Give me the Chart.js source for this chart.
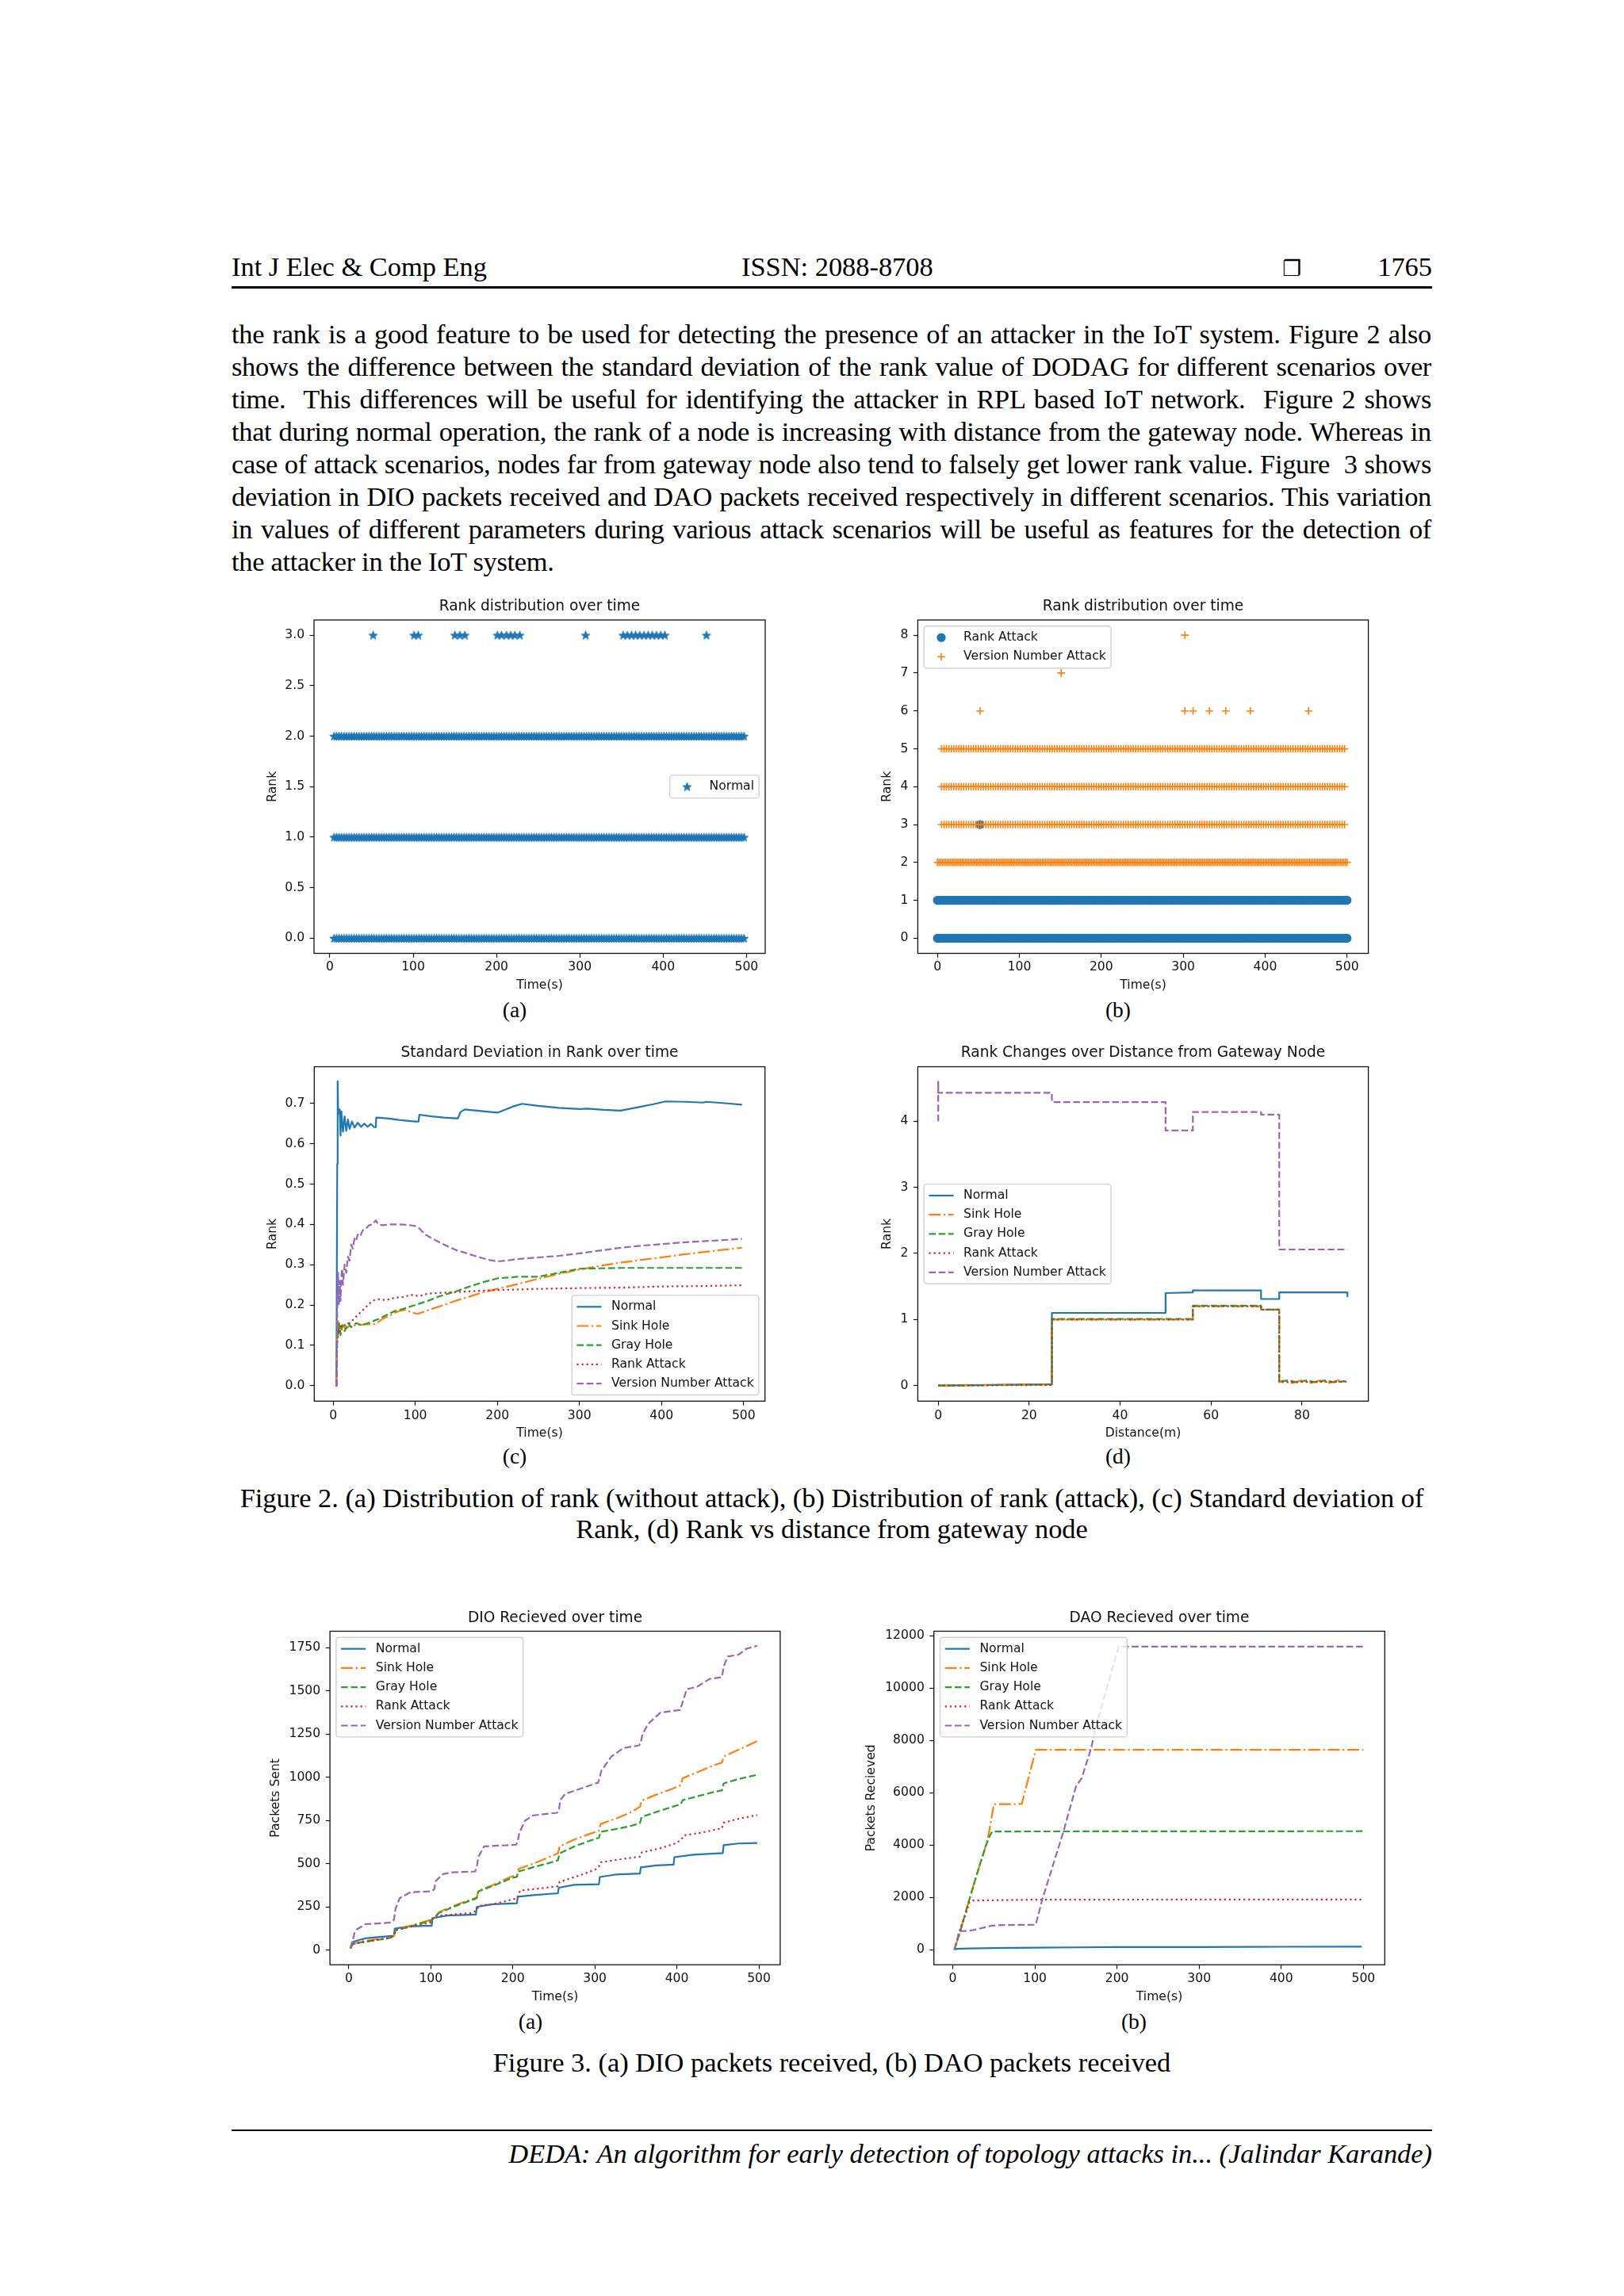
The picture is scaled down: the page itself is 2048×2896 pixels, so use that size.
<!DOCTYPE html>
<html>
<head>
<meta charset="utf-8">
<script src="https://cdn.jsdelivr.net/npm/chart.js@4.4.1/dist/chart.umd.min.js"></script>
<style>
  html, body { margin: 0; padding: 0; background: #fff; }
  #page { position: relative; width: 2048px; height: 2896px; overflow: hidden; background: #fff; }
  .t { position: absolute; font-family: "Liberation Serif", "Times New Roman", serif; font-size: 34.4px;
       line-height: 41px; white-space: nowrap; color: #000; }
  .j { left: 292px; width: 1513px; text-align: justify; text-align-last: justify; letter-spacing: -0.3px; }
  .c { left: 292px; width: 1514px; text-align: center; }
  .s { font-size: 27.5px; width: 200px; text-align: center; }
  .rule { position: absolute; left: 292px; width: 1514px; background: #000; }
  canvas { position: absolute; }
</style>
</head>
<body>
<div id="page">
  <div class="t" style="left:292px;top:316px">Int J Elec &amp; Comp Eng</div>
  <div class="t" style="left:935px;top:316px">ISSN: 2088-8708</div>
  <div class="t" style="left:1617px;top:318px;font-family:'DejaVu Sans';font-size:27px">&#x2750;</div>
  <div class="t" style="right:242px;top:316px">1765</div>
  <div class="rule" style="top:361px;height:2.5px"></div>

  <div class="t j" style="top:401px">the rank is a good feature to be used for detecting the presence of an attacker in the IoT system. Figure 2 also</div>
  <div class="t j" style="top:442px">shows the difference between the standard deviation of the rank value of DODAG for different scenarios over</div>
  <div class="t j" style="top:483px">time.&nbsp; This differences will be useful for identifying the attacker in RPL based IoT network.&nbsp; Figure 2 shows</div>
  <div class="t j" style="top:524px">that during normal operation, the rank of a node is increasing with distance from the gateway node. Whereas in</div>
  <div class="t j" style="top:565px">case of attack scenarios, nodes far from gateway node also tend to falsely get lower rank value. Figure&nbsp; 3 shows</div>
  <div class="t j" style="top:606px">deviation in DIO packets received and DAO packets received respectively in different scenarios. This variation</div>
  <div class="t j" style="top:647px">in values of different parameters during various attack scenarios will be useful as features for the detection of</div>
  <div class="t" style="left:292px;top:688px;letter-spacing:-0.3px">the attacker in the IoT system.</div>

  <div class="t s" style="left:549px;top:1253px">(a)</div>
  <div class="t s" style="left:1310px;top:1253px">(b)</div>
  <div class="t s" style="left:549px;top:1816px">(c)</div>
  <div class="t s" style="left:1310px;top:1816px">(d)</div>
  <div class="t c" style="top:1869px">Figure 2. (a) Distribution of rank (without attack), (b) Distribution of rank (attack), (c) Standard deviation of</div>
  <div class="t c" style="top:1908px">Rank, (d) Rank vs distance from gateway node</div>

  <div class="t s" style="left:569px;top:2529px">(a)</div>
  <div class="t s" style="left:1330px;top:2529px">(b)</div>
  <div class="t c" style="top:2581px">Figure 3. (a) DIO packets received, (b) DAO packets received</div>

  <div class="rule" style="top:2685.5px;height:2.5px"></div>
  <div class="t" style="right:242px;top:2696px;font-style:italic">DEDA: An algorithm for early detection of topology attacks in... (Jalindar Karande)</div>
</div>

<script>
// ---------- data ----------
// sampling instants (s) of the rank scatter plots
const sampleTimes = [
  5, 10, 15, 20, 25, 30, 35, 40, 45, 50, 55, 60, 65, 70, 75, 80, 85, 90, 95, 100,
  105, 110, 115, 120, 125, 130, 135, 140, 145, 150, 155, 160, 165, 170, 175, 180, 185, 190, 195, 200,
  205, 210, 215, 220, 225, 230, 235, 240, 245, 250, 255, 260, 265, 270, 275, 280, 285, 290, 295, 300,
  305, 310, 315, 320, 325, 330, 335, 340, 345, 350, 355, 360, 365, 370, 375, 380, 385, 390, 395, 400,
  405, 410, 415, 420, 425, 430, 435, 440, 445, 450, 455, 460, 465, 470, 475, 480, 485, 490, 495, 500
];
const denseTimes = [
  0, 2, 4, 6, 8, 10, 12, 14, 16, 18, 20, 22, 24, 26, 28, 30, 32, 34, 36, 38, 40, 42, 44, 46, 48,
  50, 52, 54, 56, 58, 60, 62, 64, 66, 68, 70, 72, 74, 76, 78, 80, 82, 84, 86, 88, 90, 92, 94, 96, 98,
  100, 102, 104, 106, 108, 110, 112, 114, 116, 118, 120, 122, 124, 126, 128, 130, 132, 134, 136, 138, 140, 142, 144, 146, 148,
  150, 152, 154, 156, 158, 160, 162, 164, 166, 168, 170, 172, 174, 176, 178, 180, 182, 184, 186, 188, 190, 192, 194, 196, 198,
  200, 202, 204, 206, 208, 210, 212, 214, 216, 218, 220, 222, 224, 226, 228, 230, 232, 234, 236, 238, 240, 242, 244, 246, 248,
  250, 252, 254, 256, 258, 260, 262, 264, 266, 268, 270, 272, 274, 276, 278, 280, 282, 284, 286, 288, 290, 292, 294, 296, 298,
  300, 302, 304, 306, 308, 310, 312, 314, 316, 318, 320, 322, 324, 326, 328, 330, 332, 334, 336, 338, 340, 342, 344, 346, 348,
  350, 352, 354, 356, 358, 360, 362, 364, 366, 368, 370, 372, 374, 376, 378, 380, 382, 384, 386, 388, 390, 392, 394, 396, 398,
  400, 402, 404, 406, 408, 410, 412, 414, 416, 418, 420, 422, 424, 426, 428, 430, 432, 434, 436, 438, 440, 442, 444, 446, 448,
  450, 452, 454, 456, 458, 460, 462, 464, 466, 468, 470, 472, 474, 476, 478, 480, 482, 484, 486, 488, 490, 492, 494, 496, 498,
  500
];
// instants reported by every node in the normal run (3 s apart)
const normalTimes = [
  5, 8, 11, 14, 17, 20, 23, 26, 29, 32, 35, 38, 41, 44, 47, 50, 53, 56, 59, 62, 65, 68, 71, 74, 77, 80, 83, 86, 89, 92, 95, 98,
  101, 104, 107, 110, 113, 116, 119, 122, 125, 128, 131, 134, 137, 140, 143, 146, 149, 152, 155, 158, 161, 164, 167, 170,
  173, 176, 179, 182, 185, 188, 191, 194, 197, 200, 203, 206, 209, 212, 215, 218, 221, 224, 227, 230, 233, 236, 239, 242,
  245, 248, 251, 254, 257, 260, 263, 266, 269, 272, 275, 278, 281, 284, 287, 290, 293, 296, 299, 302, 305, 308, 311, 314,
  317, 320, 323, 326, 329, 332, 335, 338, 341, 344, 347, 350, 353, 356, 359, 362, 365, 368, 371, 374, 377, 380, 383, 386,
  389, 392, 395, 398, 401, 404, 407, 410, 413, 416, 419, 422, 425, 428, 431, 434, 437, 440, 443, 446, 449, 452, 455, 458,
  461, 464, 467, 470, 473, 476, 479, 482, 485, 488, 491, 494, 497
];

// Fig 2(a) - normal ranks
const normalRankLevels = [0, 1, 2];
const normalRank3Times = [52, 101, 106, 150, 156, 162, 201, 206, 212, 217, 222, 228, 307,
  352, 357, 362, 367, 372, 377, 382, 387, 392, 397, 402, 452];

// Fig 2(b) - ranks under attack
const rankAttackLevels = [0, 1];
const rankAttackOutliers = [[52, 3]];
const versionDenseLevels = [2];
const versionLevels = [3, 4, 5];
const versionOutliers = [[52, 6], [151, 7], [302, 6], [302, 8], [312, 6], [332, 6], [352, 6], [382, 6], [453, 6]];

// Fig 2(c) - standard deviation of rank, [time, std]
const stdNormal = [[3, 0], [4, 0], [5, 0.55], [5.5, 0.755], [6, 0.69], [7, 0.675], [8, 0.685], [9, 0.62], [10, 0.68],
  [12, 0.63], [14, 0.668], [16, 0.632], [18, 0.66], [20, 0.637], [23, 0.655], [26, 0.64], [30, 0.652], [34, 0.642],
  [38, 0.65], [42, 0.642], [46, 0.649], [50, 0.641], [52, 0.641], [52.5, 0.665], [60, 0.664], [70, 0.662], [80, 0.659],
  [90, 0.657], [100, 0.655], [104, 0.655], [105, 0.672], [120, 0.668], [135, 0.665], [150, 0.663], [152, 0.663],
  [155, 0.678], [160, 0.685], [175, 0.682], [190, 0.679], [200, 0.677], [210, 0.685], [220, 0.693], [230, 0.699],
  [250, 0.694], [275, 0.689], [300, 0.686], [310, 0.687], [330, 0.684], [350, 0.682], [370, 0.69], [390, 0.698],
  [405, 0.705], [430, 0.704], [450, 0.702], [455, 0.704], [480, 0.7], [498, 0.697]];
const stdSink = [[3, 0], [4, 0], [5, 0.12], [6, 0.16], [7, 0.13], [8, 0.15], [10, 0.135], [12, 0.15], [15, 0.14],
  [20, 0.148], [30, 0.15], [40, 0.152], [50, 0.152], [55, 0.158], [60, 0.165], [70, 0.175], [80, 0.185], [88, 0.188],
  [95, 0.182], [103, 0.178], [110, 0.183], [120, 0.19], [135, 0.2], [150, 0.211], [165, 0.22], [180, 0.23], [200, 0.24],
  [225, 0.252], [250, 0.265], [275, 0.277], [300, 0.288], [325, 0.297], [350, 0.305], [375, 0.312], [400, 0.318],
  [425, 0.325], [450, 0.331], [475, 0.337], [498, 0.342]];
const stdGray = [[3, 0], [4, 0], [5, 0.14], [6, 0.12], [7, 0.155], [9, 0.125], [11, 0.15], [14, 0.135], [18, 0.155],
  [22, 0.145], [28, 0.155], [35, 0.15], [45, 0.157], [55, 0.165], [65, 0.175], [75, 0.185], [85, 0.19], [100, 0.2],
  [115, 0.21], [130, 0.222], [150, 0.234], [165, 0.245], [180, 0.255], [200, 0.266], [225, 0.27], [250, 0.27],
  [270, 0.278], [300, 0.29], [325, 0.291], [350, 0.292], [400, 0.292], [450, 0.292], [498, 0.292]];
const stdRank = [[3, 0], [4, 0], [5, 0.11], [6, 0.14], [8, 0.13], [10, 0.15], [15, 0.15], [20, 0.155], [25, 0.165],
  [30, 0.175], [35, 0.185], [40, 0.195], [45, 0.205], [50, 0.212], [55, 0.214], [65, 0.212], [75, 0.218], [85, 0.22],
  [95, 0.225], [105, 0.222], [115, 0.228], [130, 0.23], [150, 0.232], [175, 0.235], [200, 0.237], [250, 0.24],
  [300, 0.242], [350, 0.243], [400, 0.246], [450, 0.247], [498, 0.249]];
const stdVersion = [[3, 0], [4, 0], [5, 0.19], [6, 0.28], [7, 0.2], [8, 0.26], [9, 0.21], [10, 0.27], [11, 0.29],
  [12, 0.25], [14, 0.3], [16, 0.28], [18, 0.32], [20, 0.31], [22, 0.35], [24, 0.34], [26, 0.365], [28, 0.36],
  [30, 0.375], [33, 0.37], [36, 0.385], [40, 0.39], [44, 0.398], [48, 0.4], [52, 0.41], [55, 0.4], [60, 0.398],
  [70, 0.4], [80, 0.4], [90, 0.399], [100, 0.396], [105, 0.39], [112, 0.375], [120, 0.366], [130, 0.355], [140, 0.345],
  [150, 0.336], [160, 0.33], [175, 0.32], [190, 0.312], [200, 0.308], [210, 0.31], [230, 0.315], [250, 0.318],
  [275, 0.322], [300, 0.328], [325, 0.335], [350, 0.342], [375, 0.347], [400, 0.351], [425, 0.355], [450, 0.358],
  [475, 0.361], [498, 0.364]];

// Fig 2(d) - rank vs distance, [distance, rank]
const distNormal = [[0, 0], [25, 0.02], [25, 1.1], [50, 1.1], [50, 1.4], [56, 1.41], [56, 1.44], [71, 1.44],
  [71, 1.31], [75, 1.31], [75, 1.41], [90, 1.41], [90, 1.35]];
const distSink = [[0, 0], [25, 0.02], [25, 1.0], [56, 1.0], [56, 1.2], [71, 1.2], [71, 1.15], [75, 1.15], [75, 0.05],
  [76, 0.08], [78, 0.04], [80, 0.08], [82, 0.04], [84, 0.08], [86, 0.04], [88, 0.08], [90, 0.05]];
const distGray = [[0, 0], [25, 0.02], [25, 1.01], [56, 1.01], [56, 1.21], [71, 1.21], [71, 1.15], [75, 1.15],
  [75, 0.06], [77, 0.08], [79, 0.05], [81, 0.08], [83, 0.05], [85, 0.08], [87, 0.05], [90, 0.07]];
const distRank = [[0, 0], [25, 0.01], [25, 1.0], [56, 1.0], [56, 1.2], [71, 1.2], [71, 1.15], [75, 1.15], [75, 0.05],
  [90, 0.06]];
const distVersion = [[0, 4.0], [0, 4.6], [0, 4.43], [25, 4.43], [25, 4.29], [50, 4.29], [50, 3.86], [56, 3.86],
  [56, 4.14], [71, 4.14], [71, 4.1], [75, 4.1], [75, 2.06], [90, 2.06]];

// Fig 3(a) - DIO received, [time, packets]
const dioNormal = [[2, 10], [4, 45], [10, 55], [20, 68], [35, 75], [55, 83], [56, 124], [70, 135], [90, 140],
  [101, 140], [102, 185], [120, 200], [155, 206], [156, 250], [175, 265], [205, 271], [206, 309], [225, 318],
  [255, 329], [256, 361], [275, 378], [305, 381], [306, 423], [325, 437], [355, 443], [356, 479], [375, 490],
  [396, 495], [397, 538], [420, 552], [456, 561], [457, 607], [475, 617], [498, 620]];
const dioSink = [[2, 10], [5, 35], [15, 50], [30, 60], [50, 72], [55, 80], [57, 115], [70, 135], [85, 155],
  [100, 175], [106, 195], [110, 220], [130, 260], [150, 295], [156, 305], [158, 345], [175, 375], [195, 420],
  [205, 435], [207, 470], [225, 500], [245, 540], [255, 560], [257, 600], [275, 640], [295, 675], [305, 690],
  [307, 730], [325, 760], [345, 800], [355, 830], [357, 865], [375, 900], [395, 935], [405, 955], [407, 995],
  [425, 1030], [445, 1070], [455, 1085], [457, 1120], [475, 1160], [498, 1210]];
const dioGray = [[2, 10], [5, 35], [15, 45], [30, 55], [50, 70], [55, 80], [57, 115], [70, 130], [85, 150],
  [100, 170], [106, 195], [110, 215], [130, 255], [150, 290], [156, 300], [158, 340], [175, 370], [195, 410],
  [205, 425], [207, 455], [225, 480], [245, 505], [255, 520], [257, 560], [275, 600], [295, 635], [305, 650],
  [307, 685], [325, 700], [345, 720], [355, 735], [357, 770], [375, 800], [395, 830], [405, 845], [407, 868],
  [425, 890], [445, 915], [455, 925], [457, 965], [475, 990], [498, 1015]];
const dioRank = [[2, 10], [5, 35], [15, 45], [30, 55], [50, 70], [55, 92], [57, 116], [75, 135], [100, 160],
  [102, 181], [106, 198], [125, 205], [150, 215], [156, 230], [158, 255], [180, 270], [205, 300], [207, 320],
  [209, 345], [230, 355], [255, 370], [257, 395], [280, 430], [300, 465], [305, 484], [307, 508], [330, 525],
  [355, 541], [357, 565], [380, 590], [400, 620], [407, 650], [409, 664], [430, 680], [455, 705], [457, 737],
  [475, 760], [498, 782]];
const dioVersion = [[2, 10], [5, 60], [7, 100], [10, 120], [20, 150], [40, 155], [52, 160], [55, 175], [57, 240],
  [62, 300], [75, 335], [100, 340], [104, 350], [106, 400], [115, 440], [125, 450], [154, 455], [156, 480],
  [158, 540], [165, 600], [204, 610], [206, 630], [208, 680], [215, 750], [225, 780], [254, 795], [256, 810],
  [258, 870], [264, 905], [280, 930], [304, 970], [306, 1000], [308, 1040], [320, 1120], [335, 1170], [354, 1185],
  [356, 1200], [358, 1250], [365, 1310], [380, 1375], [404, 1390], [406, 1420], [408, 1450], [412, 1510],
  [425, 1525], [440, 1570], [455, 1580], [457, 1640], [462, 1700], [475, 1710], [485, 1745], [498, 1762]];

// Fig 3(b) - DAO received, [time, packets]
const daoNormal = [[2, 0], [5, 30], [20, 45], [50, 60], [100, 75], [150, 85], [200, 95], [250, 100], [300, 100],
  [360, 105], [400, 108], [498, 110]];
const daoSink = [[2, 0], [10, 800], [20, 1900], [30, 2950], [40, 3950], [44, 4450], [50, 5560], [84, 5570],
  [101, 7640], [500, 7640]];
const daoGray = [[2, 0], [10, 800], [20, 1900], [30, 2950], [40, 3950], [45, 4350], [48, 4520], [500, 4530]];
const daoRank = [[2, 0], [8, 700], [15, 1300], [20, 1800], [25, 1880], [100, 1910], [500, 1920]];
const daoVersion = [[2, 0], [8, 700], [20, 720], [30, 780], [46, 910], [60, 940], [101, 950], [109, 1920],
  [135, 4540], [150, 6240], [157, 6560], [168, 7650], [176, 8730], [202, 11590], [500, 11590]];

// tick values
const timeTicks = [0, 100, 200, 300, 400, 500];
const distTicks = [0, 20, 40, 60, 80];
const rankTicksA = [0, 0.5, 1, 1.5, 2, 2.5, 3];
const rankTicksB = [0, 1, 2, 3, 4, 5, 6, 7, 8];
const stdTicks = [0, 0.1, 0.2, 0.3, 0.4, 0.5, 0.6, 0.7];
const distRankTicks = [0, 1, 2, 3, 4];
const dioTicks = [0, 250, 500, 750, 1000, 1250, 1500, 1750];
const daoTicks = [0, 2000, 4000, 6000, 8000, 10000, 12000];

const scenarios = ['Normal', 'Sink Hole', 'Gray Hole', 'Rank Attack', 'Version Number Attack'];

// ---------- styling ----------
const COL = ['#1f77b4', '#ff7f0e', '#2ca02c', '#d62728', '#9467bd'];
const DASH = [[], [14.9, 3.7, 2.3, 3.7], [8.6, 3.7], [2.3, 3.8], [8.6, 3.7]];
const FS = 15.6, TFS = 18.6, TL = 5.4;
const LH = FS * 1.2, TLH = TFS * 1.2;

// axes box positions on the page
const GEOM = {
  a2: {boxL: 396, boxT: 782, boxR: 965, boxB: 1202.5, titleC: 764.8, xLabC: 1220.4, xTitC: 1243.4, yTitX: 344.7},
  b2: {boxL: 1157.4, boxT: 782, boxR: 1725.3, boxB: 1202.5, titleC: 764.8, xLabC: 1220.4, xTitC: 1243.4, yTitX: 1119.7},
  c2: {boxL: 396.3, boxT: 1345.5, boxR: 964.7, boxB: 1767.3, titleC: 1328.2, xLabC: 1785.5, xTitC: 1807.6, yTitX: 344.7},
  d2: {boxL: 1157.4, boxT: 1345.5, boxR: 1725.3, boxB: 1767.3, titleC: 1328.2, xLabC: 1785.5, xTitC: 1807.6, yTitX: 1119.7},
  a3: {boxL: 416.1, boxT: 2057.5, boxR: 984.1, boxB: 2478.2, titleC: 2040.7, xLabC: 2496.4, xTitC: 2518.9, yTitX: 347.9},
  b3: {boxL: 1177.7, boxT: 2057.5, boxR: 1746.1, boxB: 2478.2, titleC: 2040.7, xLabC: 2496.4, xTitC: 2518.9, yTitX: 1099.2}
};

Chart.defaults.font.family = '"DejaVu Sans", sans-serif';
Chart.defaults.color = '#111';

const pts = pairs => pairs.map(([x, y]) => ({x, y}));
const rows = (times, levels) => levels.flatMap(l => times.map(t => ({x: t, y: l})));

function starMarker(color) {
  const c = document.createElement('canvas');
  c.width = c.height = 15;
  const g = c.getContext('2d');
  g.beginPath();
  for (let i = 0; i < 10; i++) {
    const r = i % 2 ? 2.1 : 5.4;
    const a = -Math.PI / 2 + i * Math.PI / 5;
    g.lineTo(7.5 + r * Math.cos(a), 8 + r * Math.sin(a));
  }
  g.closePath();
  g.fillStyle = color; g.fill();
  g.lineJoin = 'round'; g.lineWidth = 1.2; g.strokeStyle = color; g.stroke();
  return c;
}
const STAR = starMarker(COL[0]);

function lineSet(label, pairs, i) {
  return {label, data: pts(pairs), showLine: true, borderColor: COL[i], borderWidth: 2.2,
    borderDash: DASH[i], pointRadius: 0, borderJoinStyle: 'round', tension: 0};
}

function drawMarker(ctx, d, x, y) {
  const s = d.pointStyle;
  if (s instanceof HTMLCanvasElement) {
    ctx.drawImage(s, x - s.width / 2, y - s.height / 2);
  } else if (s === 'circle') {
    ctx.beginPath(); ctx.arc(x, y, d.pointRadius, 0, 2 * Math.PI);
    ctx.fillStyle = d.backgroundColor; ctx.fill();
    ctx.lineWidth = d.borderWidth; ctx.strokeStyle = d.borderColor; ctx.stroke();
  } else if (s === 'cross') {
    const r = d.pointRadius;
    ctx.beginPath(); ctx.moveTo(x - r, y); ctx.lineTo(x + r, y); ctx.moveTo(x, y - r); ctx.lineTo(x, y + r);
    ctx.lineWidth = d.borderWidth; ctx.strokeStyle = d.borderColor; ctx.stroke();
  }
}

// matplotlib style frame + legend
const mplFrame = {
  id: 'mplFrame',
  afterDatasetsDraw(chart, args, opts) {
    const ctx = chart.ctx, a = chart.chartArea;
    ctx.save();
    ctx.strokeStyle = '#111'; ctx.lineWidth = 1.3;
    ctx.strokeRect(a.left, a.top, a.right - a.left, a.bottom - a.top);
    if (opts.loc) {
      const items = chart.data.datasets;
      ctx.font = FS + 'px "DejaVu Sans"';
      const tw = Math.max(...items.map(d => ctx.measureText(d.label).width));
      const pad = 6.2, hl = 31.2, hp = 12.5, th = 16.4, ls = 7.8, ax = 7.8;
      const w = 2 * pad + hl + hp + tw, h = 2 * pad + items.length * th + (items.length - 1) * ls;
      const x = opts.loc.includes('left') ? a.left + ax : a.right - ax - w;
      const y = opts.loc.startsWith('upper') ? a.top + ax
        : opts.loc.startsWith('lower') ? a.bottom - ax - h : (a.top + a.bottom - h) / 2;
      const r = 3.5;
      ctx.beginPath();
      ctx.moveTo(x + r, y); ctx.arcTo(x + w, y, x + w, y + h, r); ctx.arcTo(x + w, y + h, x, y + h, r);
      ctx.arcTo(x, y + h, x, y, r); ctx.arcTo(x, y, x + w, y, r); ctx.closePath();
      ctx.fillStyle = 'rgba(255,255,255,0.8)'; ctx.fill();
      ctx.strokeStyle = '#d0d0d0'; ctx.lineWidth = 1.4; ctx.stroke();
      items.forEach((d, i) => {
        const cy = y + pad + th / 2 + i * (th + ls);
        const x0 = x + pad, x1 = x0 + hl;
        if (d.showLine) {
          ctx.setLineDash(d.borderDash || []);
          ctx.strokeStyle = d.borderColor; ctx.lineWidth = d.borderWidth;
          ctx.beginPath(); ctx.moveTo(x0, cy); ctx.lineTo(x1, cy); ctx.stroke();
          ctx.setLineDash([]);
        } else {
          drawMarker(ctx, d, (x0 + x1) / 2, cy);
        }
        ctx.fillStyle = '#111'; ctx.textBaseline = 'middle'; ctx.textAlign = 'left';
        ctx.fillText(d.label, x1 + hp, cy);
      });
    }
    ctx.restore();
  }
};
Chart.register(mplFrame);

function axesChart(o) {
  const g = GEOM[o.id];
  const CL = Math.round(g.yTitX - LH / 2);
  const W = g.boxL - CL;
  const boxW = g.boxR - g.boxL;
  const width = Math.round(2 * W + boxW);
  const CT = Math.round(g.titleC - 4 - TLH / 2);
  const height = Math.round(g.xTitC + LH / 2 - CT);
  const xH = CT + height - g.boxB;
  const cv = document.createElement('canvas');
  cv.width = width; cv.height = height;
  cv.style.left = CL + 'px'; cv.style.top = CT + 'px';
  document.getElementById('page').appendChild(cv);

  const fmt = o.yDec ? (v => Number(v).toFixed(o.yDec)) : (v => String(v));
  const n = o.datasets.length;
  const tickGrid = {display: true, drawOnChartArea: false, drawTicks: true, tickLength: TL, tickWidth: 1.2, tickColor: '#111'};

  new Chart(cv, {
    type: 'scatter',
    data: {datasets: o.datasets.map((d, i) => Object.assign({order: n - i}, d))},
    options: {
      responsive: false, animation: false, events: [],
      layout: {padding: 0},
      plugins: {
        legend: {display: false}, tooltip: {enabled: false},
        title: {display: true, text: o.title, color: '#111', font: {size: TFS, weight: 'normal'},
          padding: {top: g.titleC - TLH / 2 - CT, bottom: g.boxT - g.titleC - TLH / 2}},
        mplFrame: {loc: o.loc}
      },
      scales: {
        x: {type: 'linear', position: 'bottom', min: o.x[0], max: o.x[1],
          afterBuildTicks: s => { s.ticks = o.xTicks.map(v => ({value: v})); },
          afterFit: s => { s.height = xH; },
          ticks: {padding: g.xLabC - g.boxB - TL - LH / 2, font: {size: FS}, maxRotation: 0, autoSkip: false,
            callback: v => String(v)},
          grid: tickGrid, border: {display: false},
          title: {display: true, text: o.xTitle, font: {size: FS},
            padding: {top: 0, bottom: CT + height - g.xTitC - LH / 2}}},
        y: {type: 'linear', position: 'left', min: o.y[0], max: o.y[1],
          afterBuildTicks: s => { s.ticks = o.yTicks.map(v => ({value: v})); },
          afterFit: s => { s.width = W; },
          ticks: {padding: 6.5, font: {size: FS}, autoSkip: false, callback: fmt},
          grid: tickGrid, border: {display: false},
          title: {display: true, text: o.yTitle, font: {size: FS}, padding: 0}},
        yPad: {type: 'linear', position: 'right', min: 0, max: 1, display: true,
          afterFit: s => { s.width = W; },
          ticks: {display: false}, grid: {display: false}, border: {display: false}}
      }
    }
  });
}

// ---------- Figure 2 ----------
axesChart({
  id: 'a2', title: 'Rank distribution over time', xTitle: 'Time(s)', yTitle: 'Rank',
  x: [-19, 522.5], y: [-0.15, 3.15], xTicks: timeTicks, yTicks: rankTicksA, yDec: 1, loc: 'center right',
  datasets: [{
    label: scenarios[0], showLine: false, pointStyle: STAR, pointRadius: 5,
    data: rows(normalTimes, normalRankLevels).concat(rows(normalRank3Times, [3]))
  }]
});

axesChart({
  id: 'b2', title: 'Rank distribution over time', xTitle: 'Time(s)', yTitle: 'Rank',
  x: [-24, 526], y: [-0.4, 8.4], xTicks: timeTicks, yTicks: rankTicksB, loc: 'upper left',
  datasets: [{
    label: scenarios[3], showLine: false, pointStyle: 'circle', pointRadius: 5,
    backgroundColor: COL[0], borderColor: COL[0], borderWidth: 1.3,
    data: rows(denseTimes, rankAttackLevels).concat(pts(rankAttackOutliers))
  }, {
    label: scenarios[4], showLine: false, pointStyle: 'cross', pointRadius: 4.8,
    backgroundColor: COL[1], borderColor: COL[1], borderWidth: 1.6,
    data: rows(denseTimes, versionDenseLevels).concat(rows(normalTimes, versionLevels), pts(versionOutliers))
  }]
});

axesChart({
  id: 'c2', title: 'Standard Deviation in Rank over time', xTitle: 'Time(s)', yTitle: 'Rank',
  x: [-23, 526], y: [-0.0385, 0.791], xTicks: timeTicks, yTicks: stdTicks, yDec: 1, loc: 'lower right',
  datasets: [stdNormal, stdSink, stdGray, stdRank, stdVersion].map((s, i) => lineSet(scenarios[i], s, i))
});

axesChart({
  id: 'd2', title: 'Rank Changes over Distance from Gateway Node', xTitle: 'Distance(m)', yTitle: 'Rank',
  x: [-4.5, 94.6], y: [-0.235, 4.825], xTicks: distTicks, yTicks: distRankTicks, loc: 'center left',
  datasets: [distNormal, distSink, distGray, distRank, distVersion].map((s, i) => lineSet(scenarios[i], s, i))
});

// ---------- Figure 3 ----------
axesChart({
  id: 'a3', title: 'DIO Recieved over time', xTitle: 'Time(s)', yTitle: 'Packets Sent',
  x: [-23, 526], y: [-85, 1846], xTicks: timeTicks, yTicks: dioTicks, loc: 'upper left',
  datasets: [dioNormal, dioSink, dioGray, dioRank, dioVersion].map((s, i) => lineSet(scenarios[i], s, i))
});

axesChart({
  id: 'b3', title: 'DAO Recieved over time', xTitle: 'Time(s)', yTitle: 'Packets Recieved',
  x: [-23, 526], y: [-580, 12180], xTicks: timeTicks, yTicks: daoTicks, loc: 'upper left',
  datasets: [daoNormal, daoSink, daoGray, daoRank, daoVersion].map((s, i) => lineSet(scenarios[i], s, i))
});
</script>
</body>
</html>
